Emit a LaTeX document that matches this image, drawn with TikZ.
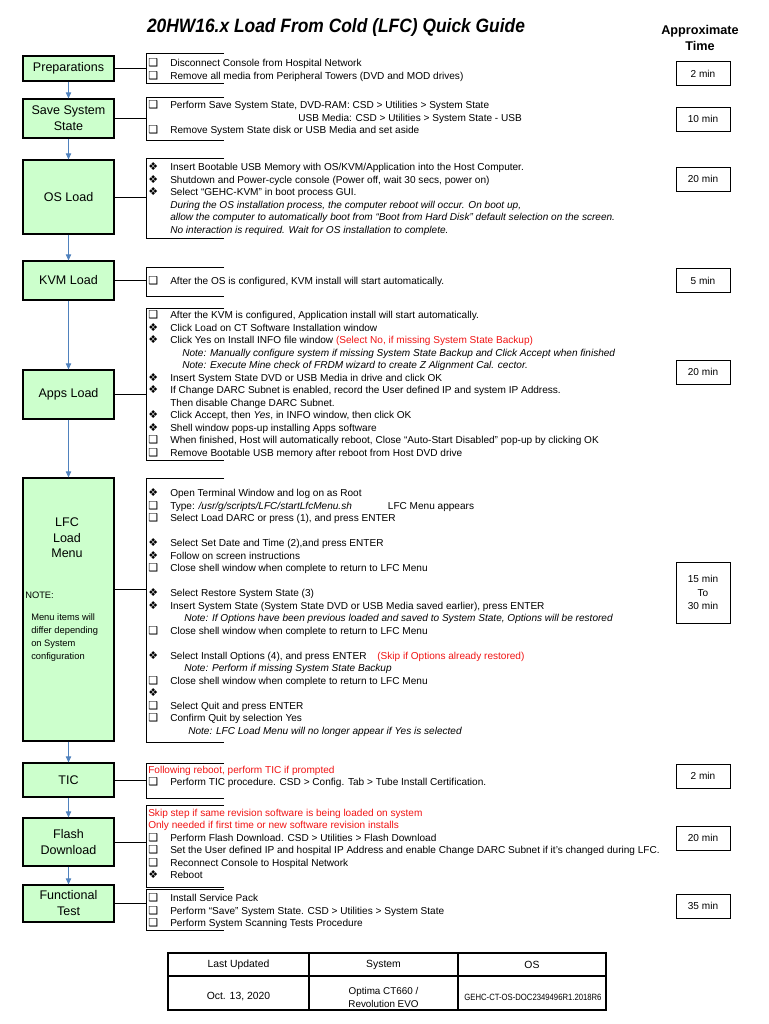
\documentclass[tikz,border=0pt]{standalone}
\usepackage{fontspec}
\setmainfont{Liberation Sans}
\newfontfamily\titlefont[FakeStretch=0.9]{Liberation Sans}
\newfontfamily\symfont{DejaVu Sans}
\newfontfamily\osfont[FakeStretch=0.85]{Liberation Sans}
\usetikzlibrary{arrows.meta,positioning,calc}
\definecolor{stagefill}{RGB}{204,255,204}
\definecolor{flowblue}{RGB}{79,129,189}
\definecolor{warn}{RGB}{240,20,20}
% bullets of the step lists
\newcommand{\sq}{\makebox[16.5pt][l]{\symfont\fontsize{8.2}{9.375}\selectfont ❑}}
\newcommand{\dm}{\makebox[16.5pt][l]{\symfont\fontsize{8.2}{9.375}\selectfont ❖}}
\newcommand{\cont}{\hspace*{16.5pt}}

\begin{document}
\begin{tikzpicture}[x=0.75pt, y=-0.75pt,
    every node/.style={font=\fontsize{7.55}{9.375}\selectfont},
    stage/.style={draw=black, fill=stagefill, line width=0.9pt, minimum width=68.25pt,
      inner sep=0pt, align=center, font=\fontsize{9.4}{12}\selectfont},
    timebox/.style={draw, line width=0.75pt, minimum width=40.5pt, minimum height=18pt,
      inner sep=0pt, align=center},
    steps/.style={anchor=north west, align=left, inner sep=0pt, execute at begin node=\strut},
    bracket/.style={line width=0.6pt},
    link/.style={line width=0.75pt},
    flow/.style={flowblue, line width=0.6pt, -{Triangle[length=4.5pt,width=4pt]}},
    grid/.style={line width=1.5pt}]
  \useasboundingbox (0,0) rectangle (768,1024);

  % heading
  \node[font=\titlefont\fontsize{14.5}{16}\selectfont\bfseries\itshape] (title) at (336,28)
    {20HW16.x Load From Cold (LFC) Quick Guide};
  \node[font=\fontsize{9.5}{12.5}\selectfont\bfseries, align=center] (timehead) at (700,38)
    {Approximate\\Time};

  % stages
  \node[stage, minimum height=18.75pt] (prep) at (68.5,68.5) {Preparations};
  \node[stage, minimum height=29.25pt] (save) at (68.5,118.5) {Save System\\State};
  \node[stage, minimum height=55.5pt] (os) at (68.5,197) {OS Load};
  \node[stage, minimum height=29.25pt] (kvm) at (68.5,280.5) {KVM Load};
  \node[stage, minimum height=36.75pt] (apps) at (68.5,394.5) {Apps Load};
  \node[stage, minimum height=197.25pt] (lfc) at (68.5,609.5) {};
  \node[stage, minimum height=25.5pt] (tic) at (68.5,780) {TIC};
  \node[stage, minimum height=36pt] (flash) at (68.5,842) {Flash\\Download};
  \node[stage, minimum height=27.75pt] (func) at (68.5,903.5) {Functional\\Test};

  \node[font=\fontsize{9.4}{11.6}\selectfont, align=center] (lfcname) at (67,538) {LFC\\Load\\Menu};
  \node[anchor=west, inner sep=0pt, font=\fontsize{7}{9}\selectfont] (lfcnote) at (25,595) {NOTE:};
  \node[anchor=north west, inner sep=0pt, align=left, font=\fontsize{7}{9.75}\selectfont]
    (lfcnotetext) at (31,613) {Menu items will\\differ depending\\on System\\configuration};

  \foreach \a/\b in {prep/save, save/os, os/kvm, kvm/apps, apps/lfc, lfc/tic, tic/flash, flash/func}
    \draw[flow] (\a) -- (\b);

  % brackets and links
  \foreach \s/\t/\b/\m in {prep/53/83/68.5, save/97/140/118.5, os/158/238/197,
      kvm/267/296/280.5, apps/308/460/394.5, lfc/478/742/589,
      tic/763/798/780, flash/805/887/842, func/889/930/903.5} {
    \draw[bracket] (224,\t) -- (146,\t) -- (146,\b) -- (224,\b);
    \coordinate (\s-in) at (146,\m);
    \draw[link] (\s.east |- \s-in) -- (\s-in);
  }

  % step lists
  \node[steps] (prepsteps) at (148,58.7)
    {\sq Disconnect Console from Hospital Network\\
     \sq Remove all media from Peripheral Towers (DVD and MOD drives)};
  \node[steps] (savesteps) at (148,100.7)
    {\sq Perform Save System State, DVD-RAM: CSD > Utilities > System State\\
     \hspace*{112.5pt}USB Media: CSD > Utilities > System State - USB\\
     \sq Remove System State disk or USB Media and set aside};
  \node[steps] (ossteps) at (148,162.7)
    {\dm Insert Bootable USB Memory with OS/KVM/Application into the Host Computer.\\
     \dm Shutdown and Power-cycle console (Power off, wait 30 secs, power on)\\
     \dm Select “GEHC-KVM” in boot process GUI.\\
     \cont\textit{During the OS installation process, the computer reboot will occur. On boot up,}\\
     \cont\textit{allow the computer to automatically boot from “Boot from Hard Disk” default selection on the screen.}\\
     \cont\textit{No interaction is required. Wait for OS installation to complete.}};
  \node[steps] (kvmsteps) at (148,275.7)
    {\sq After the OS is configured, KVM install will start automatically.};
  \node[steps] (appssteps) at (148,310.7)
    {\sq After the KVM is configured, Application install will start automatically.\\
     \dm Click Load on CT Software Installation window\\
     \dm Click Yes on Install INFO file window \textcolor{warn}{(Select No, if missing System State Backup)}\\
     \hspace*{25.5pt}\textit{Note: Manually configure system if missing System State Backup and Click Accept when finished}\\
     \hspace*{25.5pt}\textit{Note: Execute Mine check of FRDM wizard to create Z Alignment Cal. cector.}\\
     \dm Insert System State DVD or USB Media in drive and click OK\\
     \dm If Change DARC Subnet is enabled, record the User defined IP and system IP Address.\\
     \cont Then disable Change DARC Subnet.\\
     \dm Click Accept, then \textit{Yes}, in INFO window, then click OK\\
     \dm Shell window pops-up installing Apps software\\
     \sq When finished, Host will automatically reboot, Close “Auto-Start Disabled” pop-up by clicking OK\\
     \sq Remove Bootable USB memory after reboot from Host DVD drive};
  \node[steps] (lfcsteps) at (148,488.7)
    {\dm Open Terminal Window and log on as Root\\
     \sq Type: \textit{/usr/g/scripts/LFC/startLfcMenu.sh}\hspace{27pt}LFC Menu appears\\
     \sq Select Load DARC or press (1), and press ENTER\\[9.375pt]
     \dm Select Set Date and Time (2),and press ENTER\\
     \dm Follow on screen instructions\\
     \sq Close shell window when complete to return to LFC Menu\\[9.375pt]
     \dm Select Restore System State (3)\\
     \dm Insert System State (System State DVD or USB Media saved earlier), press ENTER\\
     \hspace*{27pt}\textit{Note: If Options have been previous loaded and saved to System State, Options will be restored}\\
     \sq Close shell window when complete to return to LFC Menu\\[9.375pt]
     \dm Select Install Options (4), and press ENTER\hspace{8pt}\textcolor{warn}{(Skip if Options already restored)}\\
     \hspace*{27pt}\textit{Note: Perform if missing System State Backup}\\
     \sq Close shell window when complete to return to LFC Menu\\
     \dm\\
     \sq Select Quit and press ENTER\\
     \sq Confirm Quit by selection Yes\\
     \hspace*{30pt}\textit{Note: LFC Load Menu will no longer appear if Yes is selected}};
  \node[steps] (ticsteps) at (148,765.7)
    {\textcolor{warn}{Following reboot, perform TIC if prompted}\\
     \sq Perform TIC procedure. CSD > Config. Tab > Tube Install Certification.};
  \node[steps] (flashsteps) at (148,808.7)
    {\textcolor{warn}{Skip step if same revision software is being loaded on system}\\
     \textcolor{warn}{Only needed if first time or new software revision installs}\\
     \sq Perform Flash Download. CSD > Utilities > Flash Download\\
     \sq Set the User defined IP and hospital IP Address and enable Change DARC Subnet if it’s changed during LFC.\\
     \sq Reconnect Console to Hospital Network\\
     \dm Reboot};
  \node[steps] (funcsteps) at (148,893.7)
    {\sq Install Service Pack\\
     \sq Perform “Save” System State. CSD > Utilities > System State\\
     \sq Perform System Scanning Tests Procedure};

  % times
  \node[timebox] (tprep) at (703,74) {2 min};
  \node[timebox] (tsave) at (703,119) {10 min};
  \node[timebox] (tos) at (703,179) {20 min};
  \node[timebox] (tkvm) at (703,280.5) {5 min};
  \node[timebox] (tapps) at (703,372) {20 min};
  \node[timebox, minimum height=45.75pt, font=\fontsize{7.55}{10}\selectfont] (tlfc) at (703,592.5)
    {15 min\\To\\30 min};
  \node[timebox] (ttic) at (703,776) {2 min};
  \node[timebox] (tflash) at (703,838) {20 min};
  \node[timebox] (tfunc) at (703,906) {35 min};

  % revision table
  \draw[grid] (168,953) rectangle (606,1010);
  \draw[grid] (168,976) -- (606,976);
  \draw[grid] (309,953) -- (309,1010);
  \draw[grid] (458,953) -- (458,1010);
  \node[font=\fontsize{7.8}{9.8}\selectfont] (hdate) at (238.5,965) {Last Updated};
  \node[font=\fontsize{7.8}{9.8}\selectfont] (hsys) at (383.5,965) {System};
  \node[font=\fontsize{7.8}{9.8}\selectfont] (hos) at (532,965) {OS};
  \node[font=\fontsize{7.8}{9.8}\selectfont] (date) at (238.5,997) {Oct. 13, 2020};
  \node[align=center, font=\fontsize{7.4}{9.8}\selectfont] (sys) at (383.5,997) {Optima CT660 /\\Revolution EVO};
  \node[font=\osfont\fontsize{6.8}{8}\selectfont] (osdoc) at (533,997) {GEHC-CT-OS-DOC2349496R1.2018R6};
\end{tikzpicture}
\end{document}
